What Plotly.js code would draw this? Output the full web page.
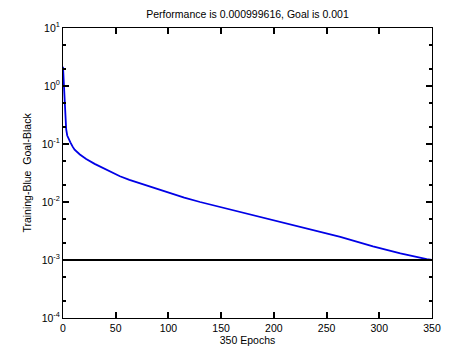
<!DOCTYPE html>
<html>
<head>
<meta charset="utf-8">
<script src="https://cdn.plot.ly/plotly-3.0.1.min.js"></script>
<style>html,body{margin:0;padding:0;background:#fff;}#chart{width:474px;height:358px;}</style>
</head>
<body>
<div id="chart"></div>
<script>
// Training performance
const epochs = [0, 1, 2, 3, 4, 5, 7, 9, 11, 16, 22, 30, 38, 46, 54, 63, 73, 82, 92, 100, 115, 130, 150, 168, 185, 204, 231, 263, 294, 320, 345, 350];
const performance = [2.15, 1.0, 0.34, 0.18, 0.14, 0.125, 0.107, 0.091, 0.08, 0.066, 0.055, 0.0455, 0.0385, 0.0325, 0.0278, 0.024, 0.021, 0.0185, 0.0162, 0.0142, 0.0119, 0.0100, 0.0081, 0.0067, 0.0057, 0.0047, 0.0035, 0.0025, 0.00172, 0.0013, 0.00104, 0.000999616];
const goalEpochs = [0, 350];
const goalValues = [0.001, 0.001];
const xTicks = [0, 50, 100, 150, 200, 250, 300, 350];
const yTickVals = [10, 1, 0.1, 0.01, 0.001, 0.0001];
const yTickText = ['10<sup>1</sup>', '10<sup>0</sup>', '10<sup>-1</sup>', '10<sup>-2</sup>', '10<sup>-3</sup>', '10<sup>-4</sup>'];
const titleText = 'Performance is 0.000999616, Goal is 0.001';
const xTitle = '350 Epochs';
const yTitle = 'Training-Blue  Goal-Black';

const font = {family: 'Liberation Sans, Arial, sans-serif', size: 10.5, color: '#000'};

Plotly.newPlot('chart', [
  {x: epochs, y: performance, type: 'scatter', mode: 'lines', line: {color: 'rgb(0,0,230)', width: 1.8}, hoverinfo: 'skip'},
  {x: goalEpochs, y: goalValues, type: 'scatter', mode: 'lines', line: {color: '#000', width: 2}, hoverinfo: 'skip'}
], {
  width: 474, height: 358,
  margin: {l: 63, r: 42, t: 28, b: 40},
  showlegend: false,
  font: font,
  title: {text: titleText, font: font, x: 0.5, xref: 'paper', y: 1 - 14/358, yref: 'container', yanchor: 'middle'},
  xaxis: {
    range: [0, 350], tickvals: xTicks, ticks: 'inside', ticklen: 6, tickwidth: 1.5, tickcolor: '#000',
    showline: true, linecolor: '#000', mirror: 'ticks', gridcolor: 'rgba(0,0,0,0)', zeroline: false,
    tickfont: font, title: {text: xTitle, font: font, standoff: 2}
  },
  yaxis: {
    type: 'log', range: [-4, 1], tickvals: yTickVals, ticktext: yTickText,
    ticks: 'inside', ticklen: 6, tickwidth: 1.5, tickcolor: '#000',
    minor: {ticks: 'inside', ticklen: 3, tickwidth: 1.5, tickcolor: '#000', gridcolor: 'rgba(0,0,0,0)'},
    showline: true, linecolor: '#000', mirror: 'ticks', gridcolor: 'rgba(0,0,0,0)', zeroline: false,
    tickfont: font, title: {text: yTitle, font: font, standoff: 8}
  }
}, {displayModeBar: false});
</script>
</body>
</html>
